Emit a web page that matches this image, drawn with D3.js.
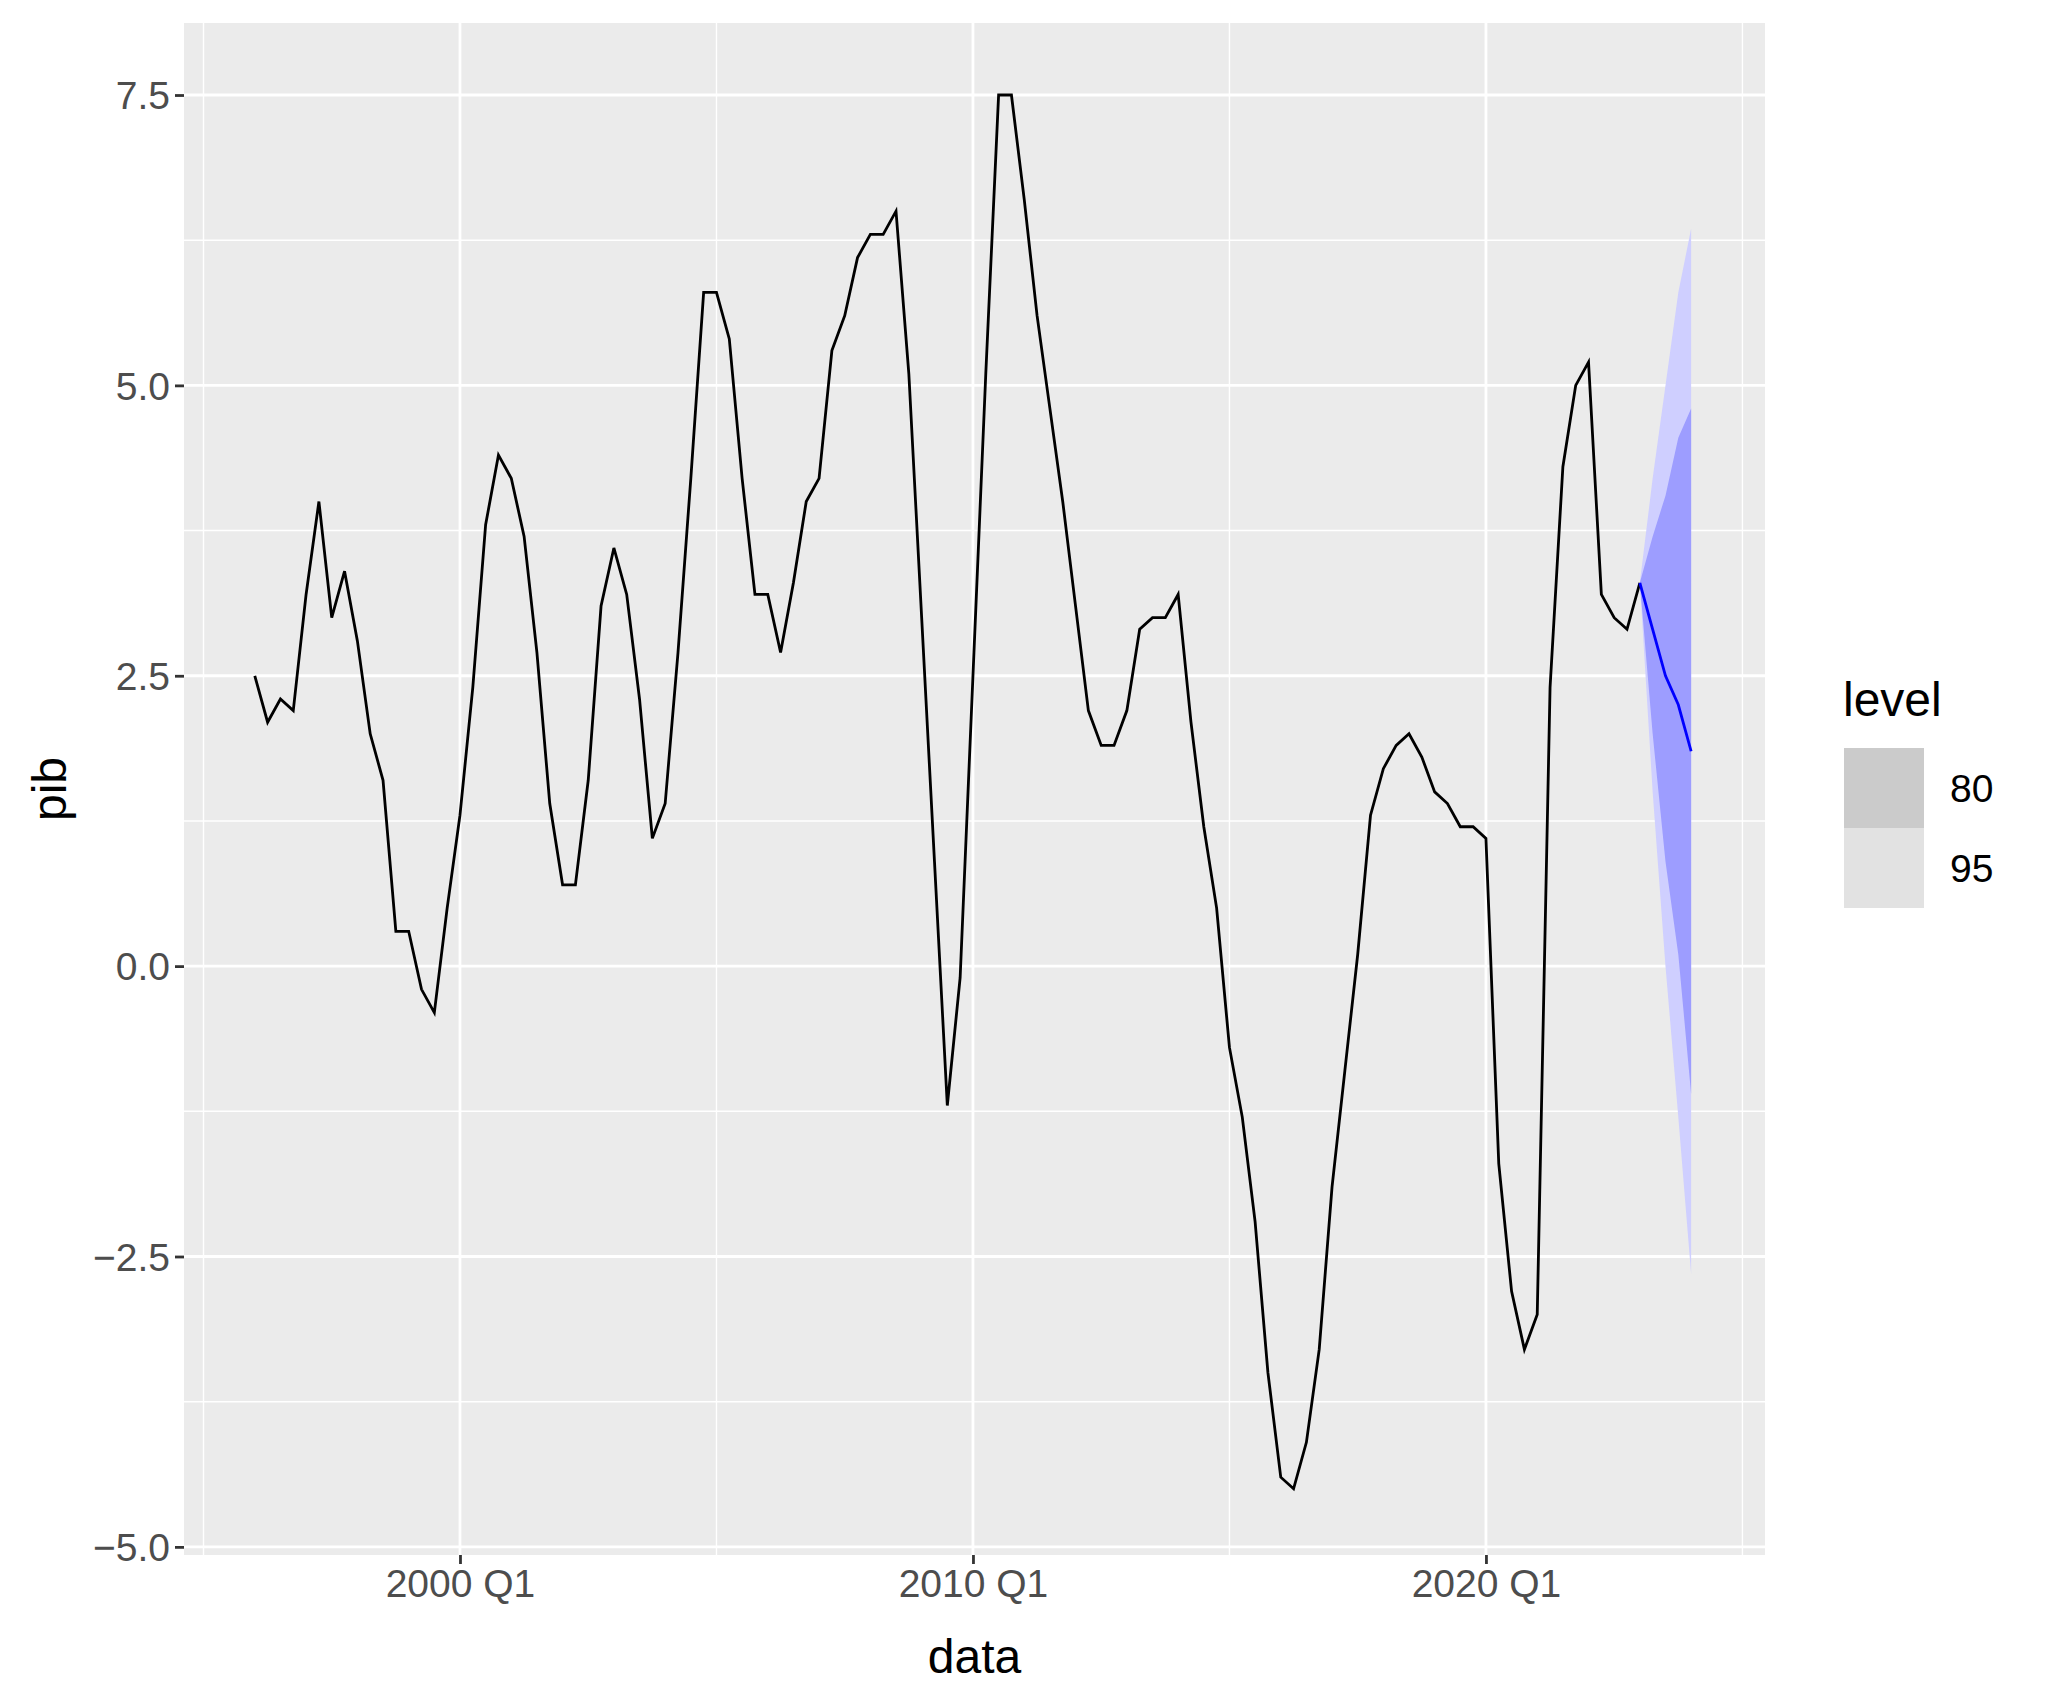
<!DOCTYPE html>
<html>
<head>
<meta charset="utf-8">
<script src="https://cdn.jsdelivr.net/npm/d3@7"></script>
<style>
  body { margin: 0; background: #fff; }
  text { font-family: Arial, "Liberation Sans", sans-serif; }
</style>
</head>
<body>
<svg id="chart" width="2048" height="1707"></svg>
<script>
// quarterly series, starting 1996 Q1
var startYear = 1996;
var pib = [2.5, 2.1, 2.3, 2.2, 3.2, 4.0, 3.0, 3.4, 2.8, 2.0, 1.6, 0.3, 0.3, -0.2, -0.4, 0.5,
  1.3, 2.4, 3.8, 4.4, 4.2, 3.7, 2.7, 1.4, 0.7, 0.7, 1.6, 3.1, 3.6, 3.2, 2.3, 1.1,
  1.4, 2.7, 4.2, 5.8, 5.8, 5.4, 4.2, 3.2, 3.2, 2.7, 3.3, 4.0, 4.2, 5.3, 5.6, 6.1,
  6.3, 6.3, 6.5, 5.1, 3.0, 0.9, -1.2, -0.1, 2.5, 5.1, 7.5, 7.5, 6.6, 5.6, 4.8, 4.0,
  3.1, 2.2, 1.9, 1.9, 2.2, 2.9, 3.0, 3.0, 3.2, 2.1, 1.2, 0.5, -0.7, -1.3, -2.2, -3.5,
  -4.4, -4.5, -4.1, -3.3, -1.9, -0.9, 0.1, 1.3, 1.7, 1.9, 2.0, 1.8, 1.5, 1.4, 1.2, 1.2,
  1.1, -1.7, -2.8, -3.3, -3.0, 2.4, 4.3, 5.0, 5.2, 3.2, 3.0, 2.9, 3.3];
// forecast 2023 Q1 (anchor) .. 2024 Q1
var fcMean = [3.3, 2.9, 2.5, 2.25, 1.85];
var lo80 = [3.3, 2.0, 0.9, 0.1, -1.1];
var hi80 = [3.3, 3.7, 4.05, 4.55, 4.8];
var lo95 = [3.3, 1.5, 0.0, -1.3, -2.65];
var hi95 = [3.3, 4.2, 5.0, 5.8, 6.35];
var xBreaks = [2000, 2010, 2020];
var xMinor = [1995, 2005, 2015, 2025];
var yBreaks = [-5, -2.5, 0, 2.5, 5, 7.5];
var yMinor = [-3.75, -1.25, 1.25, 3.75, 6.25];
var levels = ['80', '95'];

var L = 184, R = 1765, T = 23, B = 1555;
var x = d3.scaleLinear().domain([1994.62, 2025.44]).range([L, R]);
var y = d3.scaleLinear().domain([-5.07, 8.12]).range([B, T]);
var svg = d3.select('#chart');

svg.append('rect').attr('x', L).attr('y', T).attr('width', R - L).attr('height', B - T).attr('fill', '#ebebeb');
var g = svg.append('g');
xMinor.forEach(v => g.append('line').attr('x1', x(v)).attr('x2', x(v)).attr('y1', T).attr('y2', B).attr('stroke', '#fff').attr('stroke-width', 1.4));
yMinor.forEach(v => g.append('line').attr('y1', y(v)).attr('y2', y(v)).attr('x1', L).attr('x2', R).attr('stroke', '#fff').attr('stroke-width', 1.4));
xBreaks.forEach(v => g.append('line').attr('x1', x(v)).attr('x2', x(v)).attr('y1', T).attr('y2', B).attr('stroke', '#fff').attr('stroke-width', 2.8));
yBreaks.forEach(v => g.append('line').attr('y1', y(v)).attr('y2', y(v)).attr('x1', L).attr('x2', R).attr('stroke', '#fff').attr('stroke-width', 2.8));

var tObs = pib.map((d, i) => startYear + i / 4);
var t0 = tObs[tObs.length - 1];
var fcT = fcMean.map((d, i) => t0 + i / 4);

var area = (lo, hi) => d3.area().x((d, i) => x(fcT[i])).y0((d, i) => y(lo[i])).y1((d, i) => y(hi[i]))(fcT);
svg.append('path').attr('d', area(lo95, hi95)).attr('fill', '#cfcfff');
svg.append('path').attr('d', area(lo80, hi80)).attr('fill', '#9d9dff');

svg.append('path').datum(pib)
  .attr('d', d3.line().x((d, i) => x(tObs[i])).y(d => y(d)))
  .attr('fill', 'none').attr('stroke', '#000').attr('stroke-width', 2.8);
svg.append('path').datum(fcMean)
  .attr('d', d3.line().x((d, i) => x(fcT[i])).y(d => y(d)))
  .attr('fill', 'none').attr('stroke', '#0000ff').attr('stroke-width', 2.8);

var xAxis = d3.axisBottom(x).tickValues(xBreaks).tickFormat(d => d + ' Q1').tickSize(9).tickPadding(5);
var xa = svg.append('g').attr('transform', 'translate(0,' + B + ')').call(xAxis);
var yAxis = d3.axisLeft(y).tickValues(yBreaks).tickFormat(d3.format('.1f')).tickSize(9).tickPadding(5);
var ya = svg.append('g').attr('transform', 'translate(' + L + ',0)').call(yAxis);
[xa, ya].forEach(a => {
  a.select('.domain').remove();
  a.selectAll('line').attr('stroke', '#333').attr('stroke-width', 2.8);
  a.selectAll('text').attr('fill', '#4d4d4d').style('font-size', '39px').style('font-family', 'Arial, "Liberation Sans", sans-serif');
});
ya.selectAll('text').attr('dy', '0.35em');

svg.append('text').attr('x', (L + R) / 2).attr('y', 1673).attr('text-anchor', 'middle').style('font-size', '48px').text('data');
svg.append('text').attr('transform', 'translate(66,' + (T + B) / 2 + ') rotate(-90)').attr('text-anchor', 'middle').style('font-size', '48px').text('pib');

var lg = svg.append('g');
lg.append('text').attr('x', 1843).attr('y', 716).style('font-size', '48px').text('level');
var keyFill = ['#cbcbcb', '#e2e2e2'];
levels.forEach((lv, i) => {
  lg.append('rect').attr('x', 1844).attr('y', 748 + i * 80).attr('width', 80).attr('height', 80).attr('fill', keyFill[i]);
  lg.append('text').attr('x', 1950).attr('y', 802 + i * 80).style('font-size', '39px').text(lv);
});
</script>
</body>
</html>
